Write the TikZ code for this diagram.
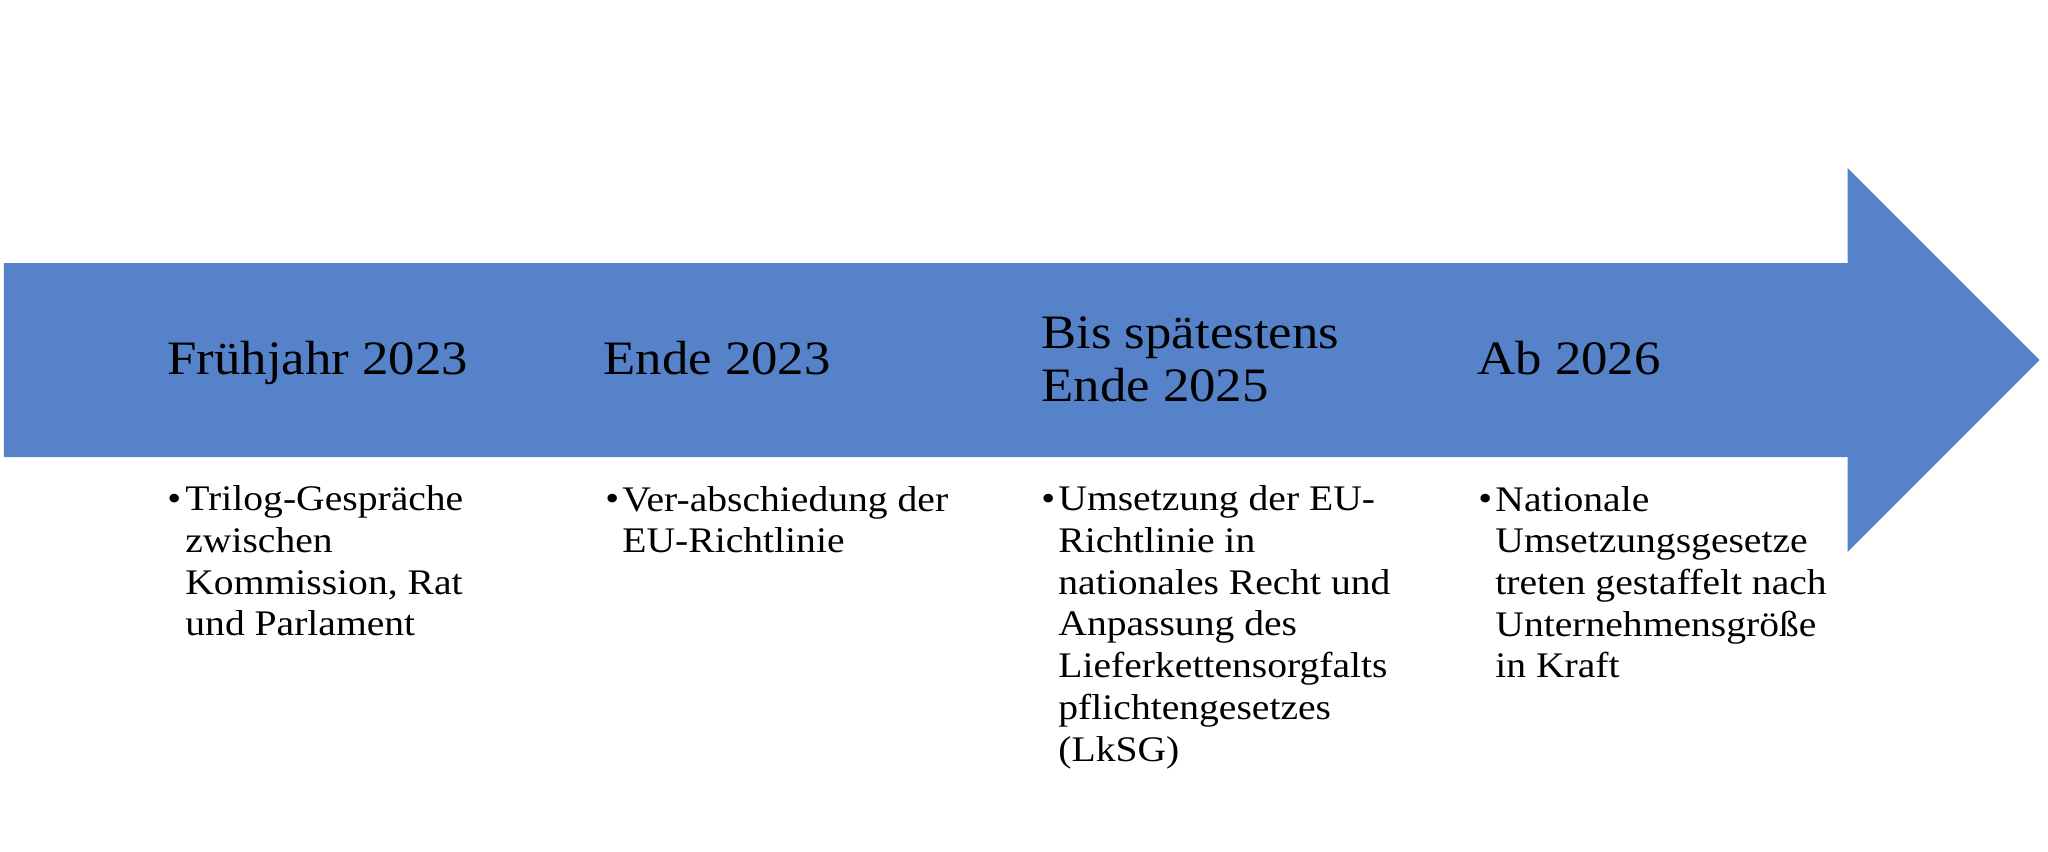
\documentclass[tikz,border=0pt]{standalone}
\usepackage{fontspec}
\setmainfont{Liberation Serif}[FakeStretch=1.1]
\usepackage{tkz-euclide}
\definecolor{pfeil}{RGB}{86,130,202}
\tikzset{
  kopf/.style={anchor=base west,inner sep=0pt,align=left,
    font=\fontsize{24}{26.5}\selectfont},
  punkt/.style={anchor=base west,inner sep=0pt,
    font=\fontsize{18}{20.85}\selectfont},
  liste/.style={anchor=base west,inner sep=0pt,align=left,
    font=\fontsize{18}{20.85}\selectfont}
}
\begin{document}
\begin{tikzpicture}[scale=1.7573]
  \useasboundingbox (0,0) rectangle (20.48,8.51);
  \tkzDefPoints{0.04/5.88/A,18.48/5.88/B,18.48/6.83/C,20.40/4.91/T,18.48/2.99/D,18.48/3.94/E,0.04/3.94/F}
  \tkzFillPolygon[color=pfeil](A,B,C,T,D,E,F)
  \node[kopf] (fruehjahr) at (1.67,4.76) {Frühjahr 2023};
  \node[kopf] (ende23) at (6.03,4.76) {Ende 2023};
  \node[kopf] (bis25) at (10.41,4.49) {Bis spätestens\\Ende 2025};
  \node[kopf] (ab26) at (14.77,4.76) {Ab 2026};
  \node[punkt] (p1) at (1.67,3.40) {•};
  \node[punkt] (p2) at (6.05,3.40) {•};
  \node[punkt] (p3) at (10.41,3.40) {•};
  \node[punkt] (p4) at (14.78,3.40) {•};
  \node[liste] (trilog) at (1.85,2.15) {Trilog-Gespräche\\zwischen\\Kommission, Rat\\und Parlament};
  \node[liste] (verab) at (6.22,2.98) {Ver-abschiedung der\\EU-Richtlinie};
  \node[liste] (umsetz) at (10.58,0.90) {Umsetzung der EU-\\Richtlinie in\\nationales Recht und\\Anpassung des\\Lieferkettensorgfalts\\pflichtengesetzes\\(LkSG)};
  \node[liste] (national) at (14.95,1.73) {Nationale\\Umsetzungsgesetze\\treten gestaffelt nach\\Unternehmensgröße\\in Kraft};
\end{tikzpicture}
\end{document}
